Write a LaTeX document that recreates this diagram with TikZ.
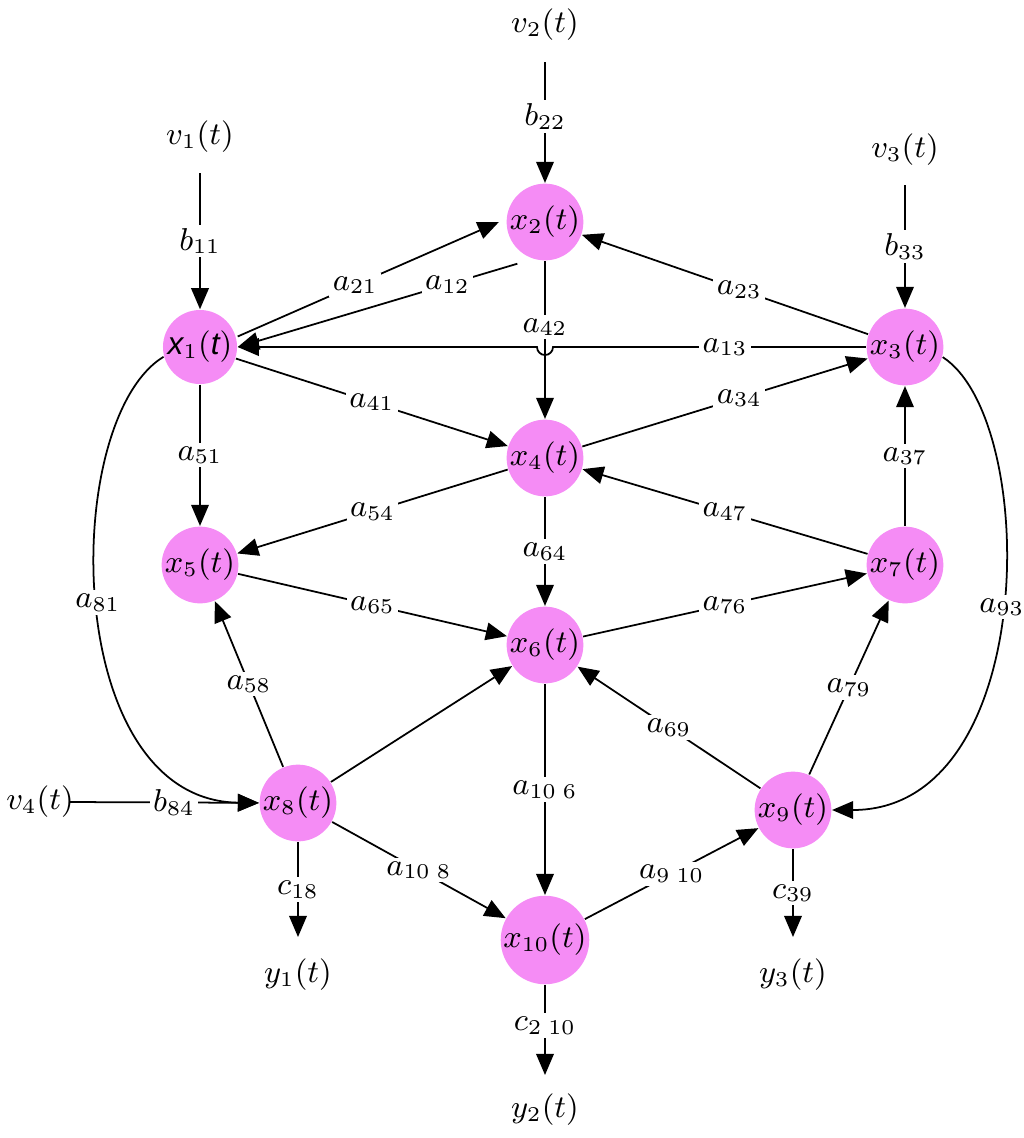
\documentclass[tikz,border=0pt]{standalone}
\usepackage{fontspec}
\setmainfont{Liberation Sans}
\usetikzlibrary{arrows.meta}
\definecolor{nodepink}{RGB}{245,140,245}
\begin{document}
\begin{tikzpicture}[x=0.01cm,y=-0.01cm,
  every node/.style={font=\fontsize{9}{10}\selectfont},
  st/.style={circle,fill=nodepink,minimum size=0.74cm,inner sep=0pt},
  lab/.style={fill=white,inner sep=1pt},
  ar/.style={-{Triangle[length=6pt,width=5pt]},line width=0.5pt},
  ln/.style={line width=0.5pt}]
\useasboundingbox (0,0) rectangle (1024,1138);
\node[st] (x1) at (200,347) {$\mathit{x}_1(\mathit{t})$};
\node[st] (x2) at (545,222) {$x_2(t)$};
\node[st] (x3) at (905,347) {$x_3(t)$};
\node[st] (x4) at (545,458) {$x_4(t)$};
\node[st] (x5) at (200,565) {$x_5(t)$};
\node[st] (x6) at (545,645) {$x_6(t)$};
\node[st] (x7) at (905,565) {$x_7(t)$};
\node[st] (x8) at (298,803) {$x_8(t)$};
\node[st] (x9) at (793,810) {$x_9(t)$};
\node[st] (x10) at (545,940) {$x_{10}(t)$};
\node (v1) at (200,137) {$v_1(t)$};
\node (v2) at (545,25) {$v_2(t)$};
\node (v3) at (905,150) {$v_3(t)$};
\node (v4) at (40,802) {$v_4(t)$};
\node (y1) at (298,975) {$y_1(t)$};
\node (y2) at (545,1110) {$y_2(t)$};
\node (y3) at (793,975) {$y_3(t)$};
\coordinate (s1) at (200,173);
\coordinate (s2) at (545,62);
\coordinate (s3) at (905,185);
\coordinate (s4) at (70,802);
\coordinate (e1) at (298,937);
\coordinate (e2) at (545,1075);
\coordinate (e3) at (793,937);
\draw[ar] (s1) -- node[lab]{$b_{11}$} (x1);
\draw[ar] (s2) -- node[lab,pos=0.45]{$b_{22}$} (x2);
\draw[ar] (s3) -- node[lab]{$b_{33}$} (x3);
\draw[ar] (s4) -- node[lab,pos=0.55]{$b_{84}$} (x8);
\draw[ar] (x8) -- node[lab]{$c_{18}$} (e1);
\draw[ar] (x10) -- node[lab,pos=0.45]{$c_{2\;10}$} (e2);
\draw[ar] (x9) -- node[lab]{$c_{39}$} (e3);
\draw[ar] ([yshift=3pt]x1.east) -- node[lab,pos=0.45]{$a_{21}$} ([xshift=-2pt]x2.west);
\draw[ar] ([yshift=-4pt]x2.south west) -- node[lab,pos=0.25]{$a_{12}$} (x1.east);
\draw[ar] (x3) -- node[lab,pos=0.45]{$a_{23}$} (x2);
\draw[ar] (x3) -- node[lab,pos=0.45]{$a_{13}$} (553,347) arc[start angle=0,end angle=180,radius=8] -- (x1);
\draw[ar] (x2) -- node[lab,pos=0.42]{$a_{42}$} (x4);
\draw[ar] (x1) -- node[lab]{$a_{41}$} (x4);
\draw[ar] (x4) -- node[lab,pos=0.55]{$a_{34}$} (x3);
\draw[ar] (x1) -- node[lab]{$a_{51}$} (x5);
\draw[ar] (x4) -- node[lab,pos=0.5]{$a_{54}$} (x5);
\draw[ar] (x7) -- node[lab]{$a_{47}$} (x4);
\draw[ar] (x7) -- node[lab]{$a_{37}$} (x3);
\draw[ar] (x4) -- node[lab]{$a_{64}$} (x6);
\draw[ar] (x5) -- node[lab]{$a_{65}$} (x6);
\draw[ar] (x6) -- node[lab]{$a_{76}$} (x7);
\draw[ar] (x8) -- node[lab]{$a_{58}$} (x5);
\draw[ar] (x8) -- (x6);
\draw[ar] (x9) -- node[lab]{$a_{79}$} (x7);
\draw[ar] (x9) -- node[lab]{$a_{69}$} (x6);
\draw[ar] (x6) -- node[lab]{$a_{10\;6}$} (x10);
\draw[ar] (x8) -- node[lab]{$a_{10\;8}$} (x10);
\draw[ar] (x10) -- node[lab]{$a_{9\;10}$} (x9);
\draw[ar] (x1.195) .. controls (60,420) and (60,800) .. node[lab,pos=0.5]{$a_{81}$} (x8.west);
\draw[ar] (x3.-15) .. controls (1040,420) and (1040,810) .. node[lab,pos=0.5]{$a_{93}$} (x9.east);
\end{tikzpicture}
\end{document}
